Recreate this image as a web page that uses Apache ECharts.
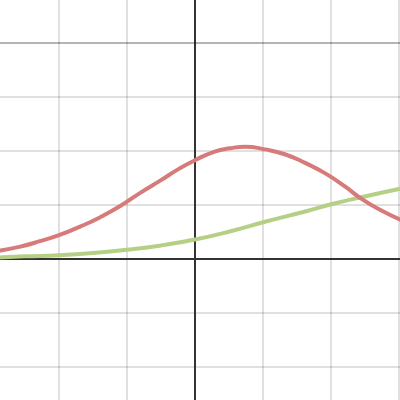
<!DOCTYPE html>
<html>
<head>
<meta charset="utf-8">
<script src="https://cdn.jsdelivr.net/npm/echarts@6/dist/echarts.min.js"></script>
<style>
  html, body { margin: 0; padding: 0; background: #fff; overflow: hidden; width: 400px; height: 400px; }
  /* the chart is bigger than the window so every grid line sits on a whole number */
  #chart { position: absolute; left: -9px; top: -11px; width: 476px; height: 432px; }
</style>
</head>
<body>
<div id="chart"></div>
<script>
// points, [x, y] in grid units
var redCurve = [
  [-2.9, 0.15], [-2.57, 0.23], [-2.28, 0.33], [-2.0, 0.44], [-1.69, 0.60],
  [-1.4, 0.77], [-1.1, 0.98], [-0.8, 1.23], [-0.5, 1.46], [-0.25, 1.66],
  [0, 1.83], [0.29, 1.99], [0.51, 2.05], [0.74, 2.08], [1.03, 2.03],
  [1.32, 1.94], [1.62, 1.78], [1.91, 1.59], [2.21, 1.34], [2.43, 1.13],
  [2.72, 0.91], [3.05, 0.71]
];
var greenCurve = [
  [-2.9, 0.03], [-2.5, 0.05], [-2.0, 0.07], [-1.5, 0.11],
  [-1.0, 0.17], [-0.5, 0.25], [0, 0.36], [0.51, 0.51], [1.03, 0.69],
  [1.62, 0.88], [1.99, 1.01], [2.43, 1.14], [3.05, 1.31]
];
var darkGridY = [4];

var chart = echarts.init(document.getElementById('chart'));

var gridLine = { show: true, lineStyle: { color: 'rgba(0,0,0,0.12)', width: 2 } };
var axisLine = { show: true, onZero: true, lineStyle: { color: '#333', width: 2 } };

chart.setOption({
  animation: false,
  grid: { left: 0, right: 0, top: 0, bottom: 0 },
  xAxis: {
    type: 'value', min: -3, max: 4, interval: 1,
    axisLine: axisLine, axisTick: { show: false }, axisLabel: { show: false },
    splitLine: gridLine
  },
  yAxis: {
    type: 'value', min: -3, max: 5, interval: 1,
    axisLine: axisLine, axisTick: { show: false }, axisLabel: { show: false },
    splitLine: gridLine
  },
  series: [
    {
      type: 'line', data: greenCurve, smooth: 0.5, showSymbol: false,
      lineStyle: { color: '#b5cf85', width: 4 },
      markLine: {
        silent: true, symbol: 'none', label: { show: false },
        lineStyle: { color: 'rgba(0,0,0,0.2)', width: 2, type: 'solid' },
        data: darkGridY.map(function (v) { return { yAxis: v }; })
      }
    },
    {
      type: 'line', data: redCurve, smooth: 0.5, showSymbol: false,
      lineStyle: { color: '#d67b79', width: 4 }
    }
  ]
});
</script>
</body>
</html>
